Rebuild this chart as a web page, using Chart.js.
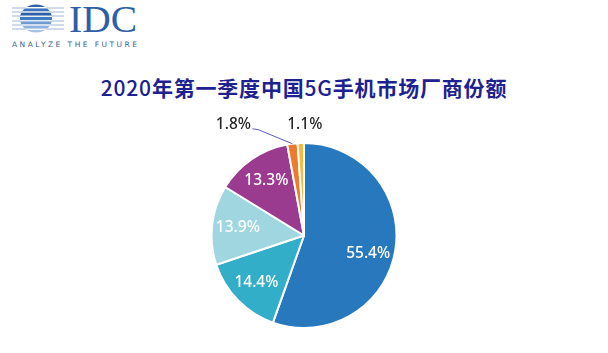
<!DOCTYPE html>
<html lang="zh">
<head>
<meta charset="UTF-8">
<title>2020年第一季度中国5G手机市场厂商份额</title>
<script src="https://cdn.jsdelivr.net/npm/chart.js@4"></script>
<style>
  html, body { margin: 0; padding: 0; background: #fff; }
  #wrap { position: relative; width: 608px; height: 353px; overflow: hidden; }
  #logo { position: absolute; left: 0; top: 0; }
  #title {
    position: absolute; left: 0; width: 608px; top: 73px; text-align: center;
    font-family: "Noto Sans CJK SC", sans-serif; font-weight: bold; font-size: 21px;
    letter-spacing: 0.8px; color: #1d2290; line-height: 28px;
  }
  #title span { font-weight: 500; }
  #chart { position: absolute; left: 0; top: 0; }
</style>
</head>
<body>
<div id="wrap">
  <svg id="logo" width="150" height="55" viewBox="0 0 150 55">
    <defs>
      <clipPath id="globe"><ellipse cx="36" cy="18.5" rx="16" ry="14"/></clipPath>
    </defs>
    <g stroke="#9fb4d4" stroke-width="1">
      <line x1="12" y1="8" x2="64" y2="8"/>
      <line x1="12" y1="12" x2="64" y2="12"/>
      <line x1="12" y1="16" x2="64" y2="16"/>
      <line x1="12" y1="21" x2="64" y2="21"/>
      <line x1="12" y1="25" x2="64" y2="25"/>
      <line x1="12" y1="29" x2="64" y2="29"/>
    </g>
    <g clip-path="url(#globe)">
      <rect x="18" y="4" width="36" height="3" fill="#2f64ad"/>
      <rect x="18" y="7" width="36" height="1.5" fill="#fff"/>
      <rect x="18" y="8.5" width="36" height="3" fill="#3a72bd"/>
      <rect x="18" y="11.5" width="36" height="1.2" fill="#fff"/>
      <rect x="18" y="12.7" width="36" height="3" fill="#2b5fa8"/>
      <rect x="18" y="15.7" width="36" height="1.2" fill="#fff"/>
      <rect x="18" y="16.9" width="36" height="3.4" fill="#3f7cc4"/>
      <rect x="18" y="20.3" width="36" height="1.2" fill="#fff"/>
      <rect x="18" y="21.5" width="36" height="3" fill="#6f9bd3"/>
      <rect x="18" y="24.5" width="36" height="1.2" fill="#fff"/>
      <rect x="18" y="25.7" width="36" height="3" fill="#8fb1de"/>
      <rect x="18" y="28.7" width="36" height="1.2" fill="#fff"/>
      <rect x="18" y="29.9" width="36" height="3" fill="#a8c2e6"/>
    </g>
    <text x="69" y="32" font-family="Liberation Serif, serif" font-size="38" fill="#2f5ea8" textLength="68" lengthAdjust="spacingAndGlyphs">IDC</text>
    <text x="12" y="47" font-family="DejaVu Sans, sans-serif" font-size="7.5" fill="#3d5f93" textLength="125" lengthAdjust="spacing">ANALYZE THE FUTURE</text>
  </svg>
  <div id="title"><span>2020</span>年第一季度中国<span>5G</span>手机市场厂商份额</div>
  <canvas id="chart" width="608" height="353"></canvas>
</div>
<script>
  // 数据
  const vendors = ['华为', 'vivo', 'OPPO', '小米', '三星', '其他'];
  const shares = [55.4, 14.4, 13.9, 13.3, 1.8, 1.1];
  const sliceColors = ['#2878be', '#33aec9', '#9fd6e0', '#9a3b8f', '#ec7b2c', '#f5b93d'];

  // label style per slice: inside (white) or outside (dark)
  const labelInside = [true, true, true, true, false, false];

  const pieLabels = {
    id: 'pieLabels',
    afterDatasetsDraw(chart) {
      const ctx = chart.ctx;
      const meta = chart.getDatasetMeta(0);
      ctx.save();
      ctx.font = '500 15.5px "Noto Sans", sans-serif';
      ctx.textAlign = 'center';
      ctx.textBaseline = 'middle';
      meta.data.forEach((arc, i) => {
        const p = arc.getProps(['x', 'y', 'startAngle', 'endAngle', 'outerRadius'], true);
        let mid = (p.startAngle + p.endAngle) / 2;
        if (i === 0) mid += 0.1; // excel best-fit sits a bit lower
        const r = p.outerRadius;
        const text = shares[i].toFixed(1) + '%';
        if (labelInside[i]) {
          ctx.fillStyle = '#ffffff';
          ctx.fillText(text, p.x + Math.cos(mid) * r * 0.72, p.y + Math.sin(mid) * r * 0.72);
        } else {
          const ex = p.x + Math.cos(mid) * r;
          const ey = p.y + Math.sin(mid) * r;
          ctx.fillStyle = '#262626';
          if (i === 4) {
            // pulled out to the left with a leader line
            const lx = ex - 59, ly = ey - 19;
            ctx.fillText(text, lx, ly);
            ctx.strokeStyle = '#5b5bb8';
            ctx.lineWidth = 1;
            ctx.beginPath();
            ctx.moveTo(lx + 19, ly + 4);
            ctx.lineTo(lx + 25, ly + 5);
            ctx.lineTo(ex, ey);
            ctx.stroke();
          } else {
            ctx.fillText(text, ex + 4, ey - 18);
          }
        }
      });
      ctx.restore();
    }
  };

  new Chart(document.getElementById('chart'), {
    type: 'pie',
    data: {
      labels: vendors,
      datasets: [{
        data: shares,
        backgroundColor: sliceColors,
        borderColor: '#ffffff',
        borderWidth: 2
      }]
    },
    options: {
      responsive: false,
      animation: false,
      layout: { padding: { top: 142, bottom: 24, left: 200, right: 200 } },
      plugins: {
        legend: { display: false },
        tooltip: { enabled: false }
      }
    },
    plugins: [pieLabels]
  });
</script>
</body>
</html>
